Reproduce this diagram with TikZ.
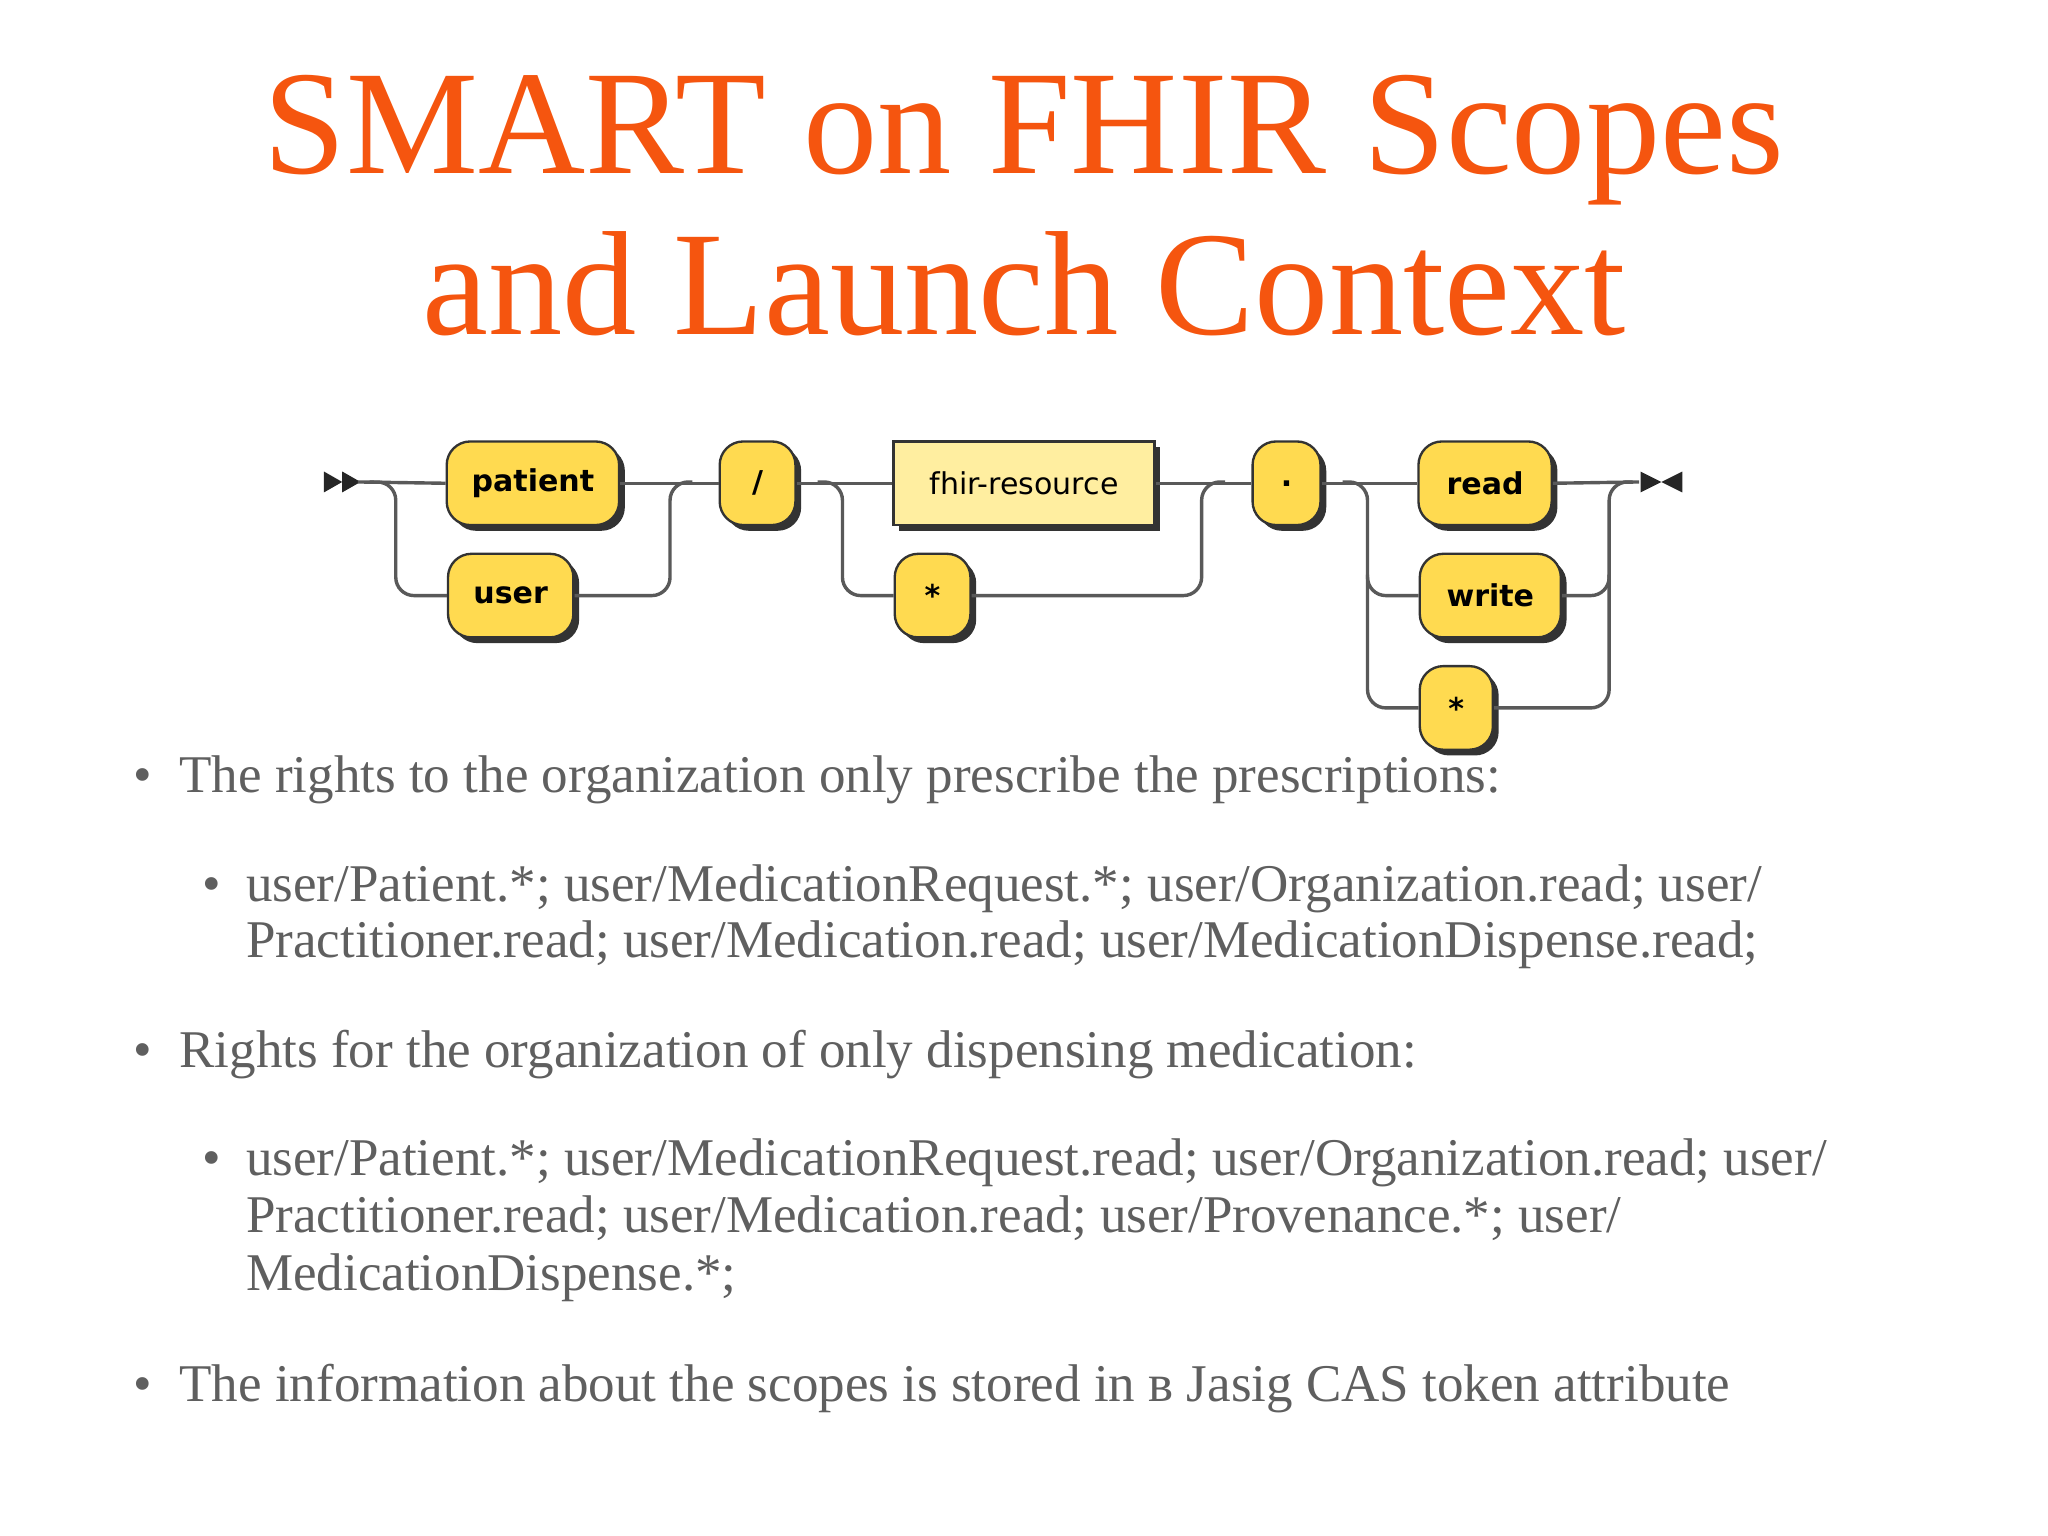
\documentclass[tikz,border=0pt]{standalone}
\usepackage{fontspec}
\setmainfont{Liberation Serif}
\newfontfamily\railfont{DejaVu Sans}
\usetikzlibrary{shadows}
\definecolor{titleorange}{RGB}{245,85,15}
\definecolor{bodygray}{RGB}{95,95,95}
\definecolor{railyellow}{RGB}{255,218,80}
\definecolor{lightyellow}{RGB}{255,238,160}
\tikzset{
  rbox/.style={draw=black!80, line width=0.9pt, fill=railyellow, rounded corners=9pt,
    font=\railfont\bfseries\fontsize{11.5}{14}\selectfont, inner sep=0pt, minimum height=32pt,
    drop shadow={shadow xshift=2.2pt, shadow yshift=-2.2pt, fill=black!80, opacity=1}},
  sbox/.style={rbox, rounded corners=0pt, fill=lightyellow, font=\railfont\fontsize{11.5}{14}\selectfont},
  rail/.style={draw=black!65, line width=1.3pt, rounded corners=7pt},
  titletext/.style={text=titleorange, font=\fontsize{56.8}{60}\selectfont, anchor=base},
  btext/.style={text=bodygray, font=\fontsize{20.3}{22}\selectfont, anchor=base west, inner sep=0pt},
}
\begin{document}
\begin{tikzpicture}[x=0.5pt,y=-0.5pt]
\useasboundingbox (0,0) rectangle (1568,1176);
\fill[white] (0,0) rectangle (1568,1176);
\node[titletext] (t1) at (784,133) {SMART on FHIR Scopes};
\node[titletext] (t2) at (784,256) {and Launch Context};
% rail nodes
\node[rbox, minimum width=66pt] (pat) at (408,370) {patient};
\node[rbox, minimum width=48pt] (usr) at (391,456) {user};
\node[rbox, minimum width=29pt] (sl) at (580,370) {/};
\node[sbox, minimum width=100pt] (fr) at (784,370) {fhir-resource};
\node[rbox, minimum width=29pt] (st1) at (714,456) {*};
\node[rbox, minimum width=26pt] (dot) at (985,370) {.};
\node[rbox, minimum width=51pt] (rd) at (1137,370) {read};
\node[rbox, minimum width=54pt] (wr) at (1141,456) {write};
\node[rbox, minimum width=28pt] (st2) at (1115,542) {*};
% start / end markers
\coordinate (s) at (283,369);
\coordinate (e) at (1255,369);
\fill[black!85] (248,361) -- (262,369) -- (248,377) -- cycle;
\fill[black!85] (262,361) -- (276,369) -- (262,377) -- cycle;
\fill[black!85] (1256,361) -- (1272,369) -- (1256,377) -- cycle;
\fill[black!85] (1288,361) -- (1272,369) -- (1288,377) -- cycle;
\draw[rail] (274,369) -- (pat.west);
\draw[rail] (s) -- (303,369) -- (303,456) -- (usr.west);
\draw[rail] (pat.east) -- (sl.west);
\draw[rail] (usr.east) -- (513,456) -- (513,369) -- (530,369);
\draw[rail] (sl.east) -- (fr.west);
\draw[rail] (626,369) -- (645,369) -- (645,456) -- (st1.west);
\draw[rail] (fr.east) -- (dot.west);
\draw[rail] (st1.east) -- (920,456) -- (920,369) -- (938,369);
\draw[rail] (dot.east) -- (rd.west);
\draw[rail] (1028,369) -- (1047,369) -- (1047,456) -- (wr.west);
\draw[rail] (1047,440) -- (1047,542) -- (st2.west);
\draw[rail] (rd.east) -- (e);
\draw[rail] (wr.east) -- (1232,456) -- (1232,369) -- (1250,369);
\draw[rail] (st2.east) -- (1232,542) -- (1232,440);
% body text
\node[btext] (b1d) at (102,607) {•};
\node[btext] (b1) at (137,607) {The rights to the organization only prescribe the prescriptions:};
\node[btext] (b1sd) at (155,690) {•};
\node[btext] (b1s1) at (188,690) {user/Patient.*; user/MedicationRequest.*; user/Organization.read; user/};
\node[btext] (b1s2) at (188,733) {Practitioner.read; user/Medication.read; user/MedicationDispense.read;};
\node[btext] (b2d) at (102,817) {•};
\node[btext] (b2) at (137,817) {Rights for the organization of only dispensing medication:};
\node[btext] (b2sd) at (155,900) {•};
\node[btext] (b2s1) at (188,900) {user/Patient.*; user/MedicationRequest.read; user/Organization.read; user/};
\node[btext] (b2s2) at (188,944) {Practitioner.read; user/Medication.read; user/Provenance.*; user/};
\node[btext] (b2s3) at (188,988) {MedicationDispense.*;};
\node[btext] (b3d) at (102,1073) {•};
\node[btext] (b3) at (137,1073) {The information about the scopes is stored in в Jasig CAS token attribute};
\end{tikzpicture}
\end{document}
